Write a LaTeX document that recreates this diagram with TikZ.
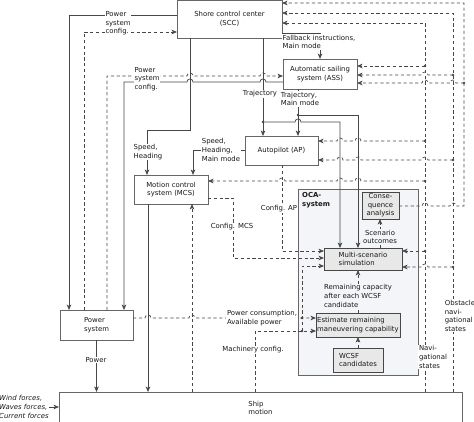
\documentclass[tikz,border=0pt]{standalone}
\usepackage{fontspec}
\setmainfont{DejaVu Sans}
\usetikzlibrary{arrows.meta}
\definecolor{lc}{HTML}{474747}
\definecolor{bc}{HTML}{666666}
\definecolor{ocafill}{HTML}{F4F5F8}
\definecolor{ifill}{HTML}{E8E8E8}
\newcommand\jumpL[2]{-- ({#1+3},#2) .. controls ({#1+3},{#2-4}) and ({#1-3},{#2-4}) .. ({#1-3},#2)}
\newcommand\jumpR[2]{-- ({#1-3},#2) .. controls ({#1-3},{#2-4}) and ({#1+3},{#2-4}) .. ({#1+3},#2)}
\begin{document}
\begin{tikzpicture}[x=1pt,y=-1pt,
  txt/.style={font=\fontsize{6.9pt}{8.6pt}\selectfont, text=black!90},
  box/.style={txt, draw=bc, fill=white, line width=0.8pt, inner sep=1pt, outer sep=0pt, align=center},
  ocabox/.style={draw=bc, fill=ocafill, line width=0.8pt, outer sep=0pt},
  ibox/.style={txt, draw=lc, fill=ifill, line width=0.8pt, inner sep=1pt, outer sep=0pt, align=center},
  lab/.style={txt, fill=white, inner sep=0.6pt},
  sl/.style={draw=lc, line width=0.7pt, -{Stealth[length=5.5pt,width=4.6pt,inset=1.5pt]}},
  dl/.style={sl, dash pattern=on 3.2pt off 2.6pt},
  dotc/.style={fill=lc, draw=none},
]
\useasboundingbox (0,0) rectangle (474,422);
\clip (0,0) rectangle (474,422);

% boxes
\node[box, minimum width=105pt, minimum height=38pt] (scc) at (229.5,19) {Shore control center\\(SCC)};
\node[box, minimum width=74pt, minimum height=30pt] (ass) at (320,74) {Automatic sailing\\system (ASS)};
\node[box, minimum width=73pt, minimum height=29pt] (ap) at (281.5,150.5) {Autopilot (AP)};
\node[box, minimum width=74pt, minimum height=29pt] (mcs) at (171,189.5) {Motion control\\system (MCS)};
\node[box, minimum width=73pt, minimum height=30pt, align=left] (pow) at (96.5,325) {Power\\system};
\node[box, minimum width=403pt, minimum height=32pt, align=left] (ship) at (260.5,408) {Ship\\motion};
\node[ocabox, minimum width=120pt, minimum height=186pt] (oca) at (358,282) {};
\node[txt, font=\fontsize{6.9pt}{8.6pt}\selectfont\bfseries, align=left, anchor=west, inner sep=0pt] (ocalab) at (302,200) {OCA-\\system};
\node[ibox, minimum width=37pt, minimum height=27pt] (cons) at (380.5,205.5) {Conse-\\quence\\analysis};
\node[ibox, minimum width=78pt, minimum height=22pt, align=left] (mss) at (363,259) {Multi-scenario\\simulation};
\node[ibox, minimum width=84pt, minimum height=24pt, align=left] (est) at (358,325) {Estimate remaining\\maneuvering capability};
\node[ibox, minimum width=50pt, minimum height=24pt, align=left] (wcsf) at (358,360) {WCSF\\candidates};
\node[txt, font=\fontsize{6.9pt}{8.6pt}\selectfont\itshape, align=left, anchor=west, inner sep=0pt] (ext) at (-1,407) {Wind forces,\\Waves forces,\\Current forces};

% named junctions
\coordinate (d1) at (263,122);
\coordinate (d2) at (298,115);
\coordinate (d3) at (302,318);
\coordinate (d4) at (302,331);
\coordinate (n1) at (425,66);
\coordinate (n2) at (425,141);
\coordinate (n3) at (425,181);
\coordinate (n4) at (425,251);
\coordinate (o1) at (453,75);
\coordinate (o2) at (453,160);
\coordinate (o3) at (453,267);
\coordinate (c1) at (464,83);

% left side
\draw[sl] (scc.west |- 0,15) -- (69,15) -- (pow.north -| 69,0);
\draw[dl] (pow.north -| 84,0) -- (84,32) -- (scc.west |- 0,32);
\draw[sl] (ass.west |- 0,82) \jumpL{263}{82} \jumpL{190}{82} -- (124,82) -- (pow.north -| 124,0);
\draw[dl] (pow.north -| 107,0) -- (107,76) \jumpR{190}{76} \jumpR{263}{76} -- (ass.west |- 0,76);
\draw[sl] (scc.south -| 190,0) -- (190,130) -- (147,130) -- (mcs.north -| 147,0);
\draw[sl] (scc.south -| 263,0) -- (ap.north -| 263,0);
\draw[sl] (d1) \jumpR{298}{122} -- (340,122) -- (mss.north -| 340,0);
\draw[sl] (ass.south -| 298,0) -- (ap.north -| 298,0);
\draw[sl] (d2) -- (358,115) -- (mss.north -| 358,0);
\draw[sl] (scc.east |- 0,33) -- (320,33) -- (ass.north -| 320,0);
\draw[sl] (ap.west |- 0,150) -- (193,150) -- (mcs.north -| 193,0);
\draw[sl] (mcs.south -| 148,0) -- (ship.north -| 148,0);
\draw[dl] (ship.north -| 192,0) -- (mcs.south -| 192,0);
\draw[sl] (pow.south) -- (ship.north -| pow.south);
\draw[dl] (pow.east |- 0,318) \jumpR{148}{318} \jumpR{192}{318} -- (est.west |- 0,318);
\draw[dl] (ship.north -| 255,0) -- (255,331) -- (est.west |- 0,331);
\draw[dl] (d4) -- (302,266) -- (mss.west |- 0,266);
\draw[dl] (ap.south -| 282,0) -- (282,251) -- (mss.west |- 0,251);
\draw[dl] (mcs.east |- 0,198) -- (233,198) -- (233,258) -- (mss.west |- 0,258);
\draw[dl] (est.north -| 358,0) -- (mss.south -| 358,0);
\draw[dl] (wcsf.north) -- (est.south);
\draw[dl] (mss.north -| 380,0) -- (cons.south -| 380,0);
\draw[sl] (ext.east |- 0,407) -- (ship.west |- 0,407);

% right side
\draw[dl] (ship.north -| 425,0) -- (425,23) -- (scc.east |- 0,23);
\draw[dl] (n1) -- (ass.east |- n1);
\draw[dl] (n2) \jumpL{358}{141} \jumpL{340}{141} -- (ap.east |- n2);
\draw[dl] (n3) \jumpL{358}{181} \jumpL{340}{181} \jumpL{282}{181} -- (mcs.east |- n3);
\draw[dl] (n4) -- (mss.east |- n4);
\draw[dl] (ship.north -| 453,0) -- (453,13) -- (scc.east |- 0,13);
\draw[dl] (o1) \jumpL{425}{75} -- (ass.east |- o1);
\draw[dl] (o2) \jumpL{425}{160} \jumpL{358}{160} \jumpL{340}{160} -- (ap.east |- o2);
\draw[dl] (o3) \jumpL{425}{267} -- (mss.east |- o3);
\draw[dl] (cons.east |- 0,206) \jumpR{425}{206} \jumpR{453}{206} -- (464,206) -- (464,3) -- (scc.east |- 0,3);
\draw[dl] (c1) \jumpL{453}{83} \jumpL{425}{83} -- (ass.east |- c1);

% dots
\foreach \p in {d1,d2,d3,d4,n1,n2,n3,n4,o1,o2,o3,c1} \fill[dotc] (\p) circle (1.3pt);

% labels
\node[lab, align=left] (l1) at (118,23.5) {Power\\system\\config.};
\node[lab, align=left] (l2) at (147,79) {Power\\system\\config.};
\node[lab, align=left] (l3) at (148,152) {Speed,\\Heading};
\node[lab] (l4) at (260,94) {Trajectory};
\node[lab, align=left] (l5) at (300,99) {Trajectory,\\Main mode};
\node[lab, align=left] (l6) at (319,42) {Fallback instructions,\\Main mode};
\node[lab, align=left] (l7) at (221,150) {Speed,\\Heading,\\Main mode};
\node[lab] (l8) at (279,209) {Config. AP};
\node[lab] (l9) at (232,227) {Config. MCS};
\node[lab, fill=ocafill, align=center] (l10) at (380,237) {Scenario\\outcomes};
\node[lab, fill=ocafill, align=left] (l11) at (358,296) {Remaining capacity\\after each WCSF\\candidate};
\node[lab, align=left] (l12) at (262,318) {Power consumption,\\Available power};
\node[lab] (l13) at (253,350) {Machinery config.};
\node[lab] (l14) at (96,360) {Power};
\node[lab, align=left] (l15) at (433,357) {Navi-\\gational\\states};
\node[lab, align=left] (l16) at (460,316) {Obstacle\\navi-\\gational\\states};
\end{tikzpicture}
\end{document}
